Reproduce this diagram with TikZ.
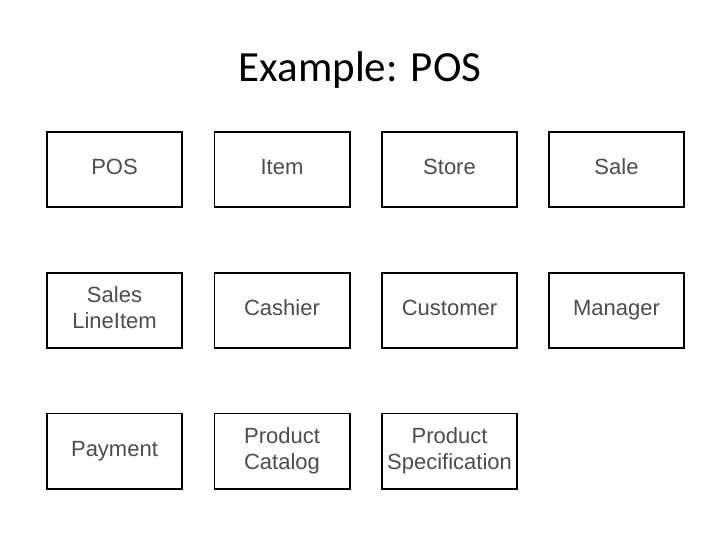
\documentclass[tikz,border=0pt]{standalone}
\usepackage{fontspec}
\setmainfont{Liberation Sans}
\newfontfamily\titlefont{Carlito}
\begin{document}
\begin{tikzpicture}[x=1pt,y=-1pt,
  box/.style={draw=black,line width=1.2pt,minimum width=135pt,minimum height=75pt,inner sep=0pt,
    align=center,font=\fontsize{22}{26}\selectfont,text=black!70},
  shadowline/.style={line width=1.6pt}]
\useasboundingbox (0,0) rectangle (720,540);
\node[font=\titlefont\fontsize{43}{48}\selectfont,anchor=base] (title) at (360,82) {Example: POS};
\foreach \n/\t/\x/\y in {a/\strut POS/114.5/169.5, b/\strut Item/282/169.5, c/\strut Store/449.5/169.5, d/\strut Sale/616.5/169.5,
  e/{\strut Sales\\\strut LineItem}/114.5/310.5, f/\strut Cashier/282/310.5, g/\strut Customer/449.5/310.5, h/\strut Manager/616.5/310.5,
  i/\strut Payment/114.5/451, j/{\strut Product\\\strut Catalog}/282/451, k/{\strut Product\\\strut Specification}/449.5/451}{
  \node[box] (\n) at (\x,\y) {\t};
  \draw[shadowline] (\n.north east) -- (\n.south east) -- (\n.south west);
}
\end{tikzpicture}
\end{document}
